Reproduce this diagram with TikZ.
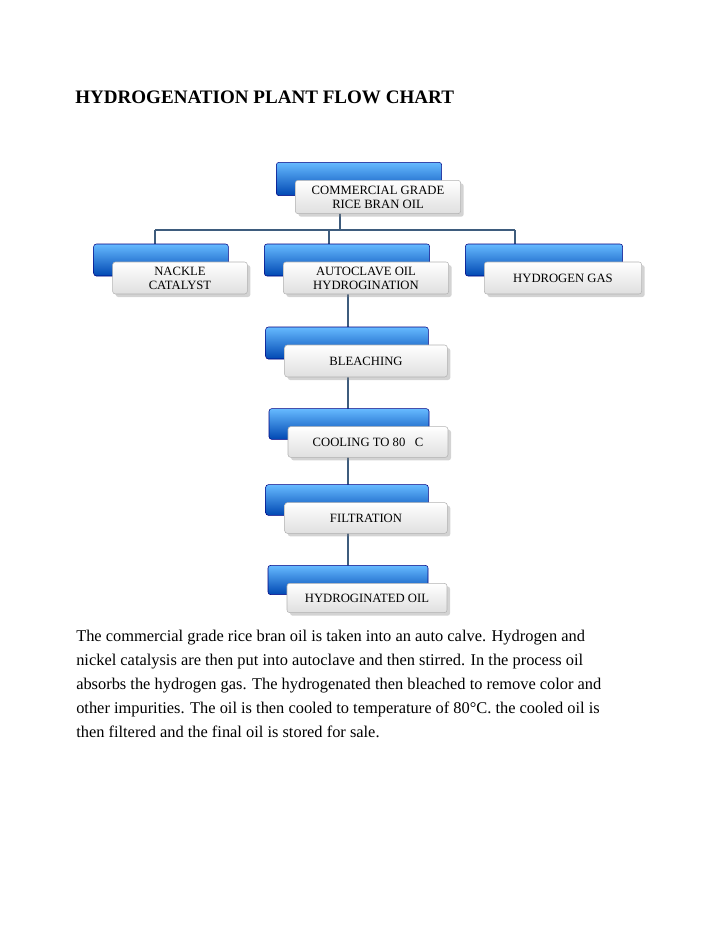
\documentclass[tikz,border=0pt]{standalone}
\usepackage{fontspec}
\setmainfont{Liberation Serif}
\usetikzlibrary{positioning,shadows}
\definecolor{linkblue}{RGB}{62,92,125}
\tikzset{
  backbox/.style={rounded corners=2pt, top color=blue!45!cyan!60!white, bottom color=blue!60!cyan!70!black, draw=blue!50!black, line width=0.4pt},
  frontbox/.style={rounded corners=2pt, top color=white, bottom color=gray!25, draw=gray!60, align=center, font=\fontsize{9.5}{10.5}\selectfont, inner sep=1pt, drop shadow={opacity=0.35}},
  link/.style={draw=linkblue, line width=1.8pt}
}
% \flowbox{name}{center x}{center y}{width}{height}{text}
\newcommand{\flowbox}[6]{%
  \node[backbox, minimum width=#4, minimum height=#5] (#1b) at (#2-19,#3-18) {};
  \node[frontbox, minimum width=#4, minimum height=#5] (#1) at (#2,#3) {#6};
}
\begin{document}
\begin{tikzpicture}[x=0.75pt, y=-0.75pt]
  \useasboundingbox (0,0) rectangle (728,943);
  \node[anchor=base west, inner sep=0pt, font=\bfseries\fontsize{14.3}{16}\selectfont] (title) at (75,103) {HYDROGENATION PLANT FLOW CHART};
  % connectors first
  \coordinate (jt) at (340,230);
  \coordinate (jl) at (155,230);
  \coordinate (jm) at (329,230);
  \coordinate (jr) at (515,230);
  \coordinate (ot) at (340,213);
  \coordinate (sp) at (348,293);
  \coordinate (se) at (348,584);
  \coordinate (dl) at (155,246);
  \coordinate (dm) at (329,246);
  \coordinate (dr) at (515,246);
  \draw[link] (ot) -- (jt);
  \draw[link] (jl) -- (jr);
  \draw[link] (jl) -- (dl);
  \draw[link] (jm) -- (dm);
  \draw[link] (jr) -- (dr);
  \draw[link] (sp) -- (se);
  % boxes
  \flowbox{oil}{378}{197}{124pt}{25pt}{COMMERCIAL GRADE\\RICE BRAN OIL}
  \flowbox{cat}{180}{278}{101pt}{24pt}{NACKLE\\CATALYST}
  \flowbox{auto}{366}{278}{124pt}{24pt}{AUTOCLAVE OIL\\HYDROGINATION}
  \flowbox{gas}{563}{278}{118pt}{24pt}{HYDROGEN GAS}
  \flowbox{bleach}{366}{361}{122pt}{24pt}{BLEACHING}
  \flowbox{cool}{368}{442}{120pt}{23pt}{COOLING TO 80\ \ \ C}
  \flowbox{filt}{366}{518}{122pt}{23pt}{FILTRATION}
  \flowbox{hoil}{367}{598}{120pt}{22pt}{HYDROGINATED OIL}
  % description
  \node[anchor=north west, align=left, inner sep=0pt, font=\fontsize{12.3}{18}\selectfont] (desc) at (76,630)
  {The commercial grade rice bran oil is taken into an auto calve. Hydrogen and\\
   nickel catalysis are then put into autoclave and then stirred. In the process oil\\
   absorbs the hydrogen gas. The hydrogenated then bleached to remove color and\\
   other impurities. The oil is then cooled to temperature of 80°C. the cooled oil is\\
   then filtered and the final oil is stored for sale.};
\end{tikzpicture}
\end{document}
